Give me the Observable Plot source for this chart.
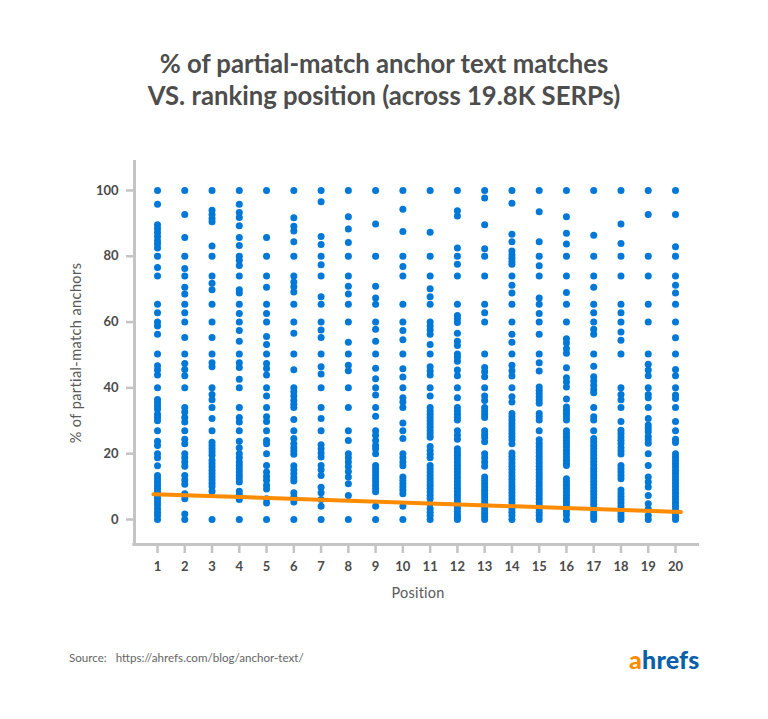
<!DOCTYPE html>
<html><head><meta charset="utf-8">
<script src="https://cdn.jsdelivr.net/npm/d3@7"></script>
<script src="https://cdn.jsdelivr.net/npm/@observablehq/plot@0.6"></script>
<style>
html,body{margin:0;padding:0;background:#fff;}
body{width:768px;height:719px;overflow:hidden;font-family:Lato,sans-serif;}
#title{height:150px;box-sizing:border-box;padding-top:47px;text-align:center;font-weight:700;font-size:25.7px;line-height:32px;color:#4d4d4d;}
#chart svg{display:block;}
#foot{position:relative;height:115px;}
#src{position:absolute;left:69px;top:47px;font-size:11.6px;color:#666;white-space:pre;}
#logo{position:absolute;left:629px;top:42px;font-size:25px;font-weight:900;letter-spacing:.2px;font-family:Lato,sans-serif;color:#0a5fa8;line-height:26px;}
#logo span{color:#ff8c00;}
</style></head><body>
<div id="title">% of partial-match anchor text matches<br>VS. ranking position (across 19.8K SERPs)</div>
<div id="chart"></div>
<div id="foot"><div id="src">Source:   https://ahrefs.com/blog/anchor-text/</div><div id="logo"><span>a</span>hrefs</div></div>
<script>
const pos1=[100,95.8,89.6,88.4,87.2,86,84.7,83.7,82.5,80,76.6,74,65.4,62.8,60,58.8,56.3,50.3,46.7,45.4,43.9,40,36.5,35.5,34.5,33.5,32,31,30,27,23.8,22.5,20,18.8,16.3,13.4,12.4,11.4,10.4,9.4,8.4,7.4,6.4,5.4,4.4,3.3,2.2,1.2,0];
const pos2=[100,92.7,85.7,80,76.3,74,70.6,68.5,65.4,62.8,60,55.3,50.3,47.4,45.6,43.7,40,34,32.7,31,29.6,27,24.4,23,20,18.8,17.5,16.2,13.4,12,10.7,7.8,6.3,1.7,0];
const pos3=[100,94,92.7,91.5,90.5,83.1,80,74,71.8,69.8,65.4,60,55.3,50.3,47.6,46.4,40,38,36.4,34,30.7,27,23.5,22.5,21.5,20.5,19.5,18,17,16,15,14,13,12,11,10,8.6,0];
const pos4=[100,95.8,93.3,91.8,89.3,85.7,83.3,80,78.8,77.2,74,69.8,68.8,65.4,62.6,60,57.4,54.2,50.3,47.6,46.2,42.6,40,34,31,29.6,27,23.8,21.8,20,18.8,17.5,16.5,15.4,14.4,13.4,12.4,11.4,8.6,7.5,6.1,0];
const pos5=[100,85.7,80,74,70.6,65.4,62.6,60,55.6,53.2,50.3,47.4,45.9,43.9,40,37.5,34,31.2,29.8,27,24,23,20,16.4,14.4,13.1,11.9,10.4,9.3,6.3,5,0];
const pos6=[100,91.7,89.1,87.7,84.4,80,74,72.2,70.7,69.1,65.4,60,56.6,50.3,45.5,40,38.8,37.5,36.2,35,34,30.4,27,24.6,23,21.8,20.8,19.8,16.3,15.1,13.9,12.7,11.7,8.1,6.8,5.3,0];
const pos7=[100,96.6,86,83.6,80,77.4,74,67.7,65.4,60,57.6,55.3,50.3,46.4,44.2,40,34,30.7,27,22.7,21.5,20.2,19,16.4,15.1,13.4,9.8,8.1,6.1,4,0];
const pos8=[100,92,88.3,84.2,80,74,70.9,68.5,65.4,60,53.9,50.3,46.9,45.2,40,34,27,24,20,18.8,17.5,16.1,14.6,12.9,10.9,7.3,0];
const pos9=[100,89.8,80,70.9,67.3,65.4,60,57.8,54.2,50.3,46,42.8,40,37.8,34,31.4,27,25.6,24,22.5,21.5,20,16.4,15.4,14.4,13.4,12.4,11.4,10.4,9.4,8.4,4,0];
const pos10=[100,94.3,87.5,80,76.9,74,65.4,60,57.4,54.6,50.3,45.8,43.3,40,37,35.7,34,29.3,27,24.6,20,18.8,17.5,16.3,12.9,11.9,10.9,9.9,8.9,7.8,4,0];
const pos11=[100,87.3,80,74,70.1,67.7,65.4,60,58.8,57.6,56.3,53.2,50.3,46.4,45.1,43.9,40,37.5,34,33,32,31,30,29,28,27,26,25,22.2,21,19.8,18.8,16.4,15.4,14.4,13.4,12.4,11.4,10.4,9.4,8.4,7.4,6.4,4.8,3.3,2.2,1.2,0];
const pos12=[100,93.8,92.2,82.5,80,77.6,74,65.4,62,61,59.9,56.6,54.2,52.9,50.3,49.3,48.1,45.4,43.7,40,37,34,33,32,31,30.2,27,25.6,24.4,21.5,20.5,19.5,18.5,17.5,16.5,15.5,14.5,13.5,12.5,11.5,10.5,9.5,8.5,7.5,6.5,5.5,4.5,3.5,2.5,1.5,0.7,0];
const pos13=[100,97.7,89.6,82.3,80,74,65.4,62.8,60,50.3,46.2,44.9,43.4,40,37.5,36.2,34,33,32,31,27,25.9,24.9,23.6,20,18.8,17.5,16.2,12.9,11.9,10.9,9.9,8.9,7.9,6.9,5.9,4.9,3.9,2.9,1.9,0.9,0];
const pos14=[100,96.1,86.7,84.4,81.6,80.4,79.4,78.4,77.6,74,71.2,68.8,65.4,60,56.3,53.9,50.3,46.9,45.2,43.6,40,37.3,35.7,32.2,31.2,30.2,29.2,28.2,27.2,26.2,25.2,24.2,23,20.2,19.2,18.2,17.2,16.2,15.2,14.2,13.2,12.2,11.2,10.2,9.2,8.2,7.2,6.2,5.2,4.2,3.2,2.2,1.2,0];
const pos15=[100,93.5,84.4,80,77.1,74,67.3,65.4,62.6,60,56.3,50.3,47.6,45.1,40.3,39.3,38.3,37.3,36.3,35.3,32.2,31.2,30.2,27,24.2,23.2,22.2,21.2,20.2,19.2,18.2,17.2,16.2,15.2,14.2,13.2,12.2,11.2,10.2,9.2,8.2,7.2,6.2,5.2,4.2,3.2,2.2,1.2,0];
const pos16=[100,92,87,83.7,80,74,69,65.4,60,54.9,53.6,51.9,50.5,46.1,43.1,41.8,40.3,36.6,34.2,33.2,32.2,31.2,30.2,27,26,25,24,23,22,21,20,19,18,17,16.4,12.4,11.4,10.4,9.4,8.4,7.4,6.4,5.4,4.4,3.4,2.4,1.4,0];
const pos17=[100,86.4,80,74,70.6,65.4,62.8,60,57.8,56.3,50.3,46.6,43.4,42.1,40.8,39.5,38.5,34,31.2,30.2,27,24.6,23.6,22.6,21.6,20.6,19.6,18.6,17.6,16.6,15.6,14.6,13.6,12.6,11.6,10.6,9.6,8.6,7.6,6.6,5.6,4.6,3.6,2.6,1.6,0.8,0];
const pos18=[100,89.8,83.9,80,74,65.4,62.8,60,57,54.5,50.3,40,38,36.4,34,29.8,27.1,26.1,25.1,24.1,23.1,21.9,20.9,19.9,16.4,15.4,14.4,13.4,12.4,9,8,7,6,5,4,3,2,1,0];
const pos19=[100,92.7,80,74,65.4,60,50.3,47.2,45.4,43.7,40,38,37,34,30.7,28.7,27.7,26.7,25.2,24.2,23.2,20,16.4,12.9,11.4,9.9,7.3,4.8,3.2,1.2,0];
const pos20=[100,92.7,82.9,80,74,71.2,68.8,65.4,60,55.2,50.3,45.6,43.7,40,37.8,36.8,34,29.8,27,24.4,23.4,20,19,18,17,16,15,14,13,12,11,10,9,8,7,6,5,4,3,2,1,0];
const series=[pos1,pos2,pos3,pos4,pos5,pos6,pos7,pos8,pos9,pos10,pos11,pos12,pos13,pos14,pos15,pos16,pos17,pos18,pos19,pos20];
const positions=[1,2,3,4,5,6,7,8,9,10,11,12,13,14,15,16,17,18,19,20];
const yTicks=[0,20,40,60,80,100];
const trendX=[0.85,20.2];
const trendY=[7.7,2.3];
const points=series.flatMap((vals,i)=>vals.map(v=>({position:positions[i],pct:v})));
const trend=trendX.map((x,i)=>({x,y:trendY[i]}));
const xMin=0.156,xMax=20.88,yMin=-7.6,yMax=109.1;
const axisColor="#c4c4c4",textColor="#4a4a4a";
const plot=Plot.plot({
  width:768,height:454,
  marginLeft:134,marginRight:69,marginTop:10,marginBottom:60,
  style:{fontFamily:"Lato,sans-serif",background:"#fff",overflow:"visible"},
  x:{type:"linear",domain:[xMin,xMax]},
  y:{type:"linear",domain:[yMin,yMax]},
  marks:[
    Plot.ruleX([xMin],{stroke:axisColor,strokeWidth:3}),
    Plot.ruleY([yMin],{stroke:axisColor,strokeWidth:3,x1:xMin-0.06,x2:xMax}),
    Plot.axisY({ticks:yTicks,anchor:"left",tickSize:8,tickPadding:8,stroke:axisColor,strokeWidth:2.5,fill:textColor,fontSize:13,fontWeight:700,label:null}),
    Plot.axisX({ticks:positions,tickFormat:d=>d,anchor:"bottom",tickSize:9,tickPadding:8.5,stroke:axisColor,strokeWidth:2.5,fill:textColor,fontSize:13,fontWeight:700,label:null}),
    Plot.dot(points,{x:"position",y:"pct",r:3.5,fill:"#0078d7",stroke:"none"}),
    Plot.line(trend,{x:"x",y:"y",stroke:"#ff8c00",strokeWidth:4}),
  ]
});
document.getElementById("chart").append(plot);
const svg=d3.select(plot);
svg.append("text").attr("transform","translate(418,448)").attr("text-anchor","middle")
  .attr("fill","#5a5a5a").attr("font-size",14.5).attr("letter-spacing",0.2).attr("font-family","Lato,sans-serif").text("Position");
svg.append("text").attr("transform","translate(81,203) rotate(-90)").attr("text-anchor","middle")
  .attr("fill","#5a5a5a").attr("font-size",14.5).attr("letter-spacing",0.4).attr("font-family","Lato,sans-serif").text("% of partial-match anchors");
</script>
</body></html>
